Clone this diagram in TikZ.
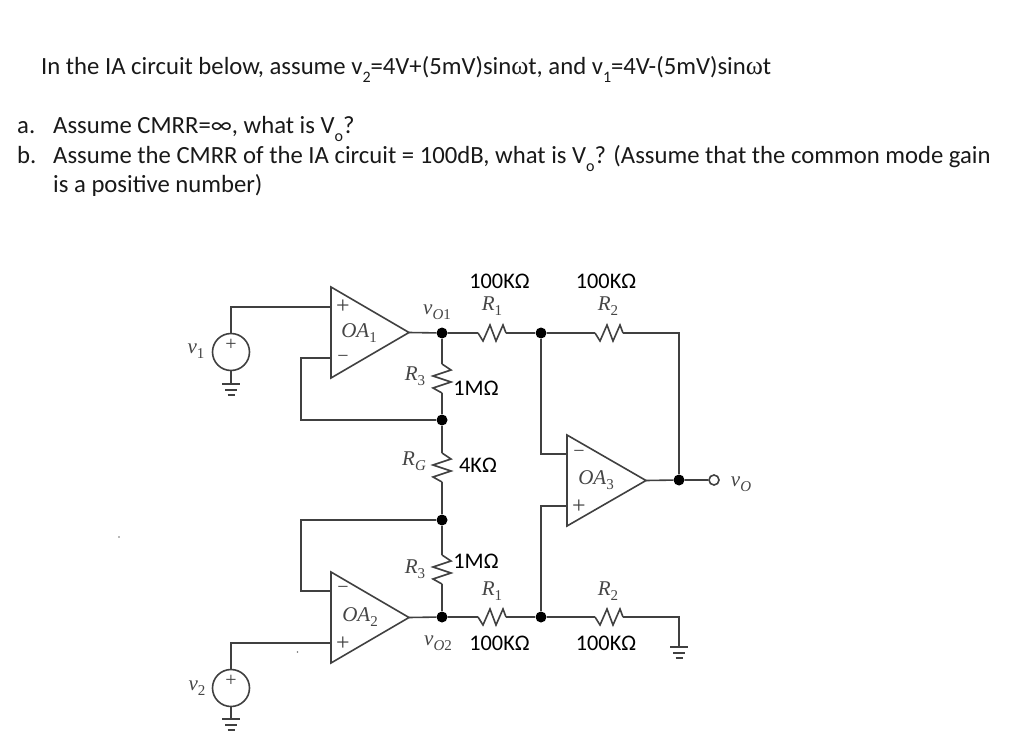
\documentclass[tikz,border=0pt]{standalone}
\usepackage{fontspec}
\setmainfont{Carlito}
\newfontfamily\serifcirc{Liberation Serif}
\newcommand{\lowsub}[1]{\raisebox{-0.3em}{\fontsize{16}{16}\selectfont #1}}
\newcommand{\omg}{{\serifcirc\fontsize{26}{26}\selectfont ω}}
\newcommand{\cv}[2]{{\serifcirc\itshape #1\raisebox{-0.25em}{\fontsize{15}{15}\selectfont\upshape #2}}}
\newcommand{\cvO}[1]{{\serifcirc\itshape v\raisebox{-0.25em}{\fontsize{15}{15}\selectfont O\upshape #1}}}
\newcommand{\cR}[2]{{\serifcirc\itshape #1\raisebox{-0.25em}{\fontsize{15}{15}\selectfont\upshape #2}}}
\newcommand{\cOA}[1]{{\serifcirc\itshape OA\raisebox{-0.25em}{\fontsize{15}{15}\selectfont\upshape #1}}}
\tikzset{
  x=1pt,y=-1pt,
  wire/.style={draw=wirec,line width=1.6pt,line join=miter},
  dotn/.style={circle,fill=black,inner sep=0pt,minimum size=11pt},
  opendot/.style={circle,draw=wirec,fill=white,line width=1.6pt,inner sep=0pt,minimum size=10pt},
  src/.style={circle,draw=wirec,line width=1.6pt,inner sep=0pt,minimum size=37pt},
  txt/.style={anchor=base west,inner sep=0pt,font=\fontsize{24.7}{24.7}\selectfont,text=black!90},
  ohm/.style={inner sep=0pt,font=\fontsize{22.3}{22.3}\selectfont,text=black},
  lab/.style={inner sep=0pt,font=\fontsize{21}{21}\selectfont,text=labc},
  sgn/.style={inner sep=0pt,font=\serifcirc\fontsize{24}{24}\selectfont,text=wirec},
}
\definecolor{wirec}{HTML}{404040}
\definecolor{labc}{HTML}{454545}
\newcommand{\opamp}[5]{% name, left x, top y, tip x, height
  \coordinate (#1top) at (#2,#3);
  \coordinate (#1bot) at (#2,#3+#5);
  \coordinate (#1out) at (#4,#3+#5/2);
  \draw[wire,line join=miter] (#1top) -- (#1out) -- (#1bot) -- cycle;
}
\newcommand{\resH}[2]{% horizontal resistor between named coordinates
  \draw[wire] (#1) -- ++(5,8) -- ++(7,-16) -- ++(6,16) -- ++(7,-16) -- ++(3,8) -- (#2);
}
\newcommand{\resV}[2]{% vertical resistor
  \draw[wire] (#1) -- ++(9,6) -- ++(-18,6) -- ++(18,6) -- ++(-18,6) -- ++(9,5) -- (#2);
}
\newcommand{\gnd}[2]{% name, top coordinate
  \coordinate (#1a) at ([yshift=0pt]#2);
  \draw[wire] (#1a) ++(-9,0) -- ++(18,0);
  \draw[wire] (#1a) ++(-6,6) -- ++(12,0);
  \draw[wire,line width=1.8pt] (#1a) ++(-3.5,11) -- ++(7,0);
}
\begin{document}
\begin{tikzpicture}
\useasboundingbox (0,0) rectangle (1024,743);
\fill[white] (0,0) rectangle (1024,743);
% --- question text
\node[txt] (q0) at (41,75) {In the IA circuit below, assume v\lowsub{2}=4V+(5mV)sin\omg t, and v\lowsub{1}=4V-(5mV)sin\omg t};
\node[txt] (qa) at (17,134) {a.};
\node[txt] (qat) at (53,134) {Assume CMRR=∞, what is V\lowsub{o}?};
\node[txt] (qb) at (17,164) {b.};
\node[txt] (qbt) at (53,164) {Assume the CMRR of the IA circuit = 100dB, what is V\lowsub{o}? (Assume that the common mode gain};
\node[txt] (qc) at (53,193) {is a positive number)};
% --- op amps
\opamp{oa1}{331}{287}{409}{91}
\opamp{oa2}{331}{572}{409}{91}
\opamp{oa3}{567}{435}{646}{91}
% --- coordinates
\coordinate (oa1p) at (331,307);
\coordinate (oa1n) at (331,358);
\coordinate (oa2n) at (331,591);
\coordinate (oa2p) at (331,643);
\coordinate (oa3n) at (567,454);
\coordinate (oa3p) at (567,506);
\coordinate (fb1) at (301,358);
\coordinate (fb1b) at (301,420);
\coordinate (fb2) at (301,591);
\coordinate (fb2b) at (301,520);
\coordinate (s1t) at (231,307);
\coordinate (s2t) at (231,643);
\coordinate (g1) at (231,384);
\coordinate (g2) at (231,719);
\coordinate (g3) at (679,647);
\coordinate (r3a) at (442,364);
\coordinate (r3b) at (442,393);
\coordinate (rga) at (442,453);
\coordinate (rgb) at (442,482);
\coordinate (r3c) at (442,555);
\coordinate (r3d) at (442,584);
\coordinate (r1a) at (478,333);
\coordinate (r1b) at (506,333);
\coordinate (r2a) at (595,333);
\coordinate (r2b) at (623,333);
\coordinate (r1c) at (478,617);
\coordinate (r1d) at (506,617);
\coordinate (r2c) at (595,617);
\coordinate (r2d) at (623,617);
\coordinate (c1) at (679,333);
\coordinate (c2) at (679,617);
\coordinate (in3n) at (541,454);
\coordinate (in3p) at (541,506);
% --- sources and nodes
\node[src] (s1) at (231,352) {};
\node[src] (s2) at (231,688) {};
\node[dotn] (n1) at (442,333) {};
\node[dotn] (n2) at (442,420) {};
\node[dotn] (n3) at (442,520) {};
\node[dotn] (n4) at (442,617) {};
\node[dotn] (n5) at (541,333) {};
\node[dotn] (n6) at (541,617) {};
\node[dotn] (n7) at (679,480) {};
\node[opendot] (vo) at (714,480) {};
% --- wires
\draw[wire] (s1.north) -- (s1t) -- (oa1p);
\draw[wire] (s2.north) -- (s2t) -- (oa2p);
\draw[wire] (s1.south) -- (g1);
\draw[wire] (s2.south) -- (g2);
\gnd{ga}{g1}
\gnd{gb}{g2}
\gnd{gc}{g3}
\draw[wire] (oa1n) -- (fb1) -- (fb1b) -- (n2);
\draw[wire] (oa2n) -- (fb2) -- (fb2b) -- (n3);
\draw[wire] (oa1out) -- (n1) -- (r1a);
\draw[wire] (oa2out) -- (n4) -- (r1c);
\draw[wire] (n1) -- (r3a);
\resV{r3a}{r3b}
\draw[wire] (r3b) -- (n2) -- (rga);
\resV{rga}{rgb}
\draw[wire] (rgb) -- (n3) -- (r3c);
\resV{r3c}{r3d}
\draw[wire] (r3d) -- (n4);
\resH{r1a}{r1b}
\resH{r2a}{r2b}
\resH{r1c}{r1d}
\resH{r2c}{r2d}
\draw[wire] (r1b) -- (n5) -- (r2a);
\draw[wire] (r1d) -- (n6) -- (r2c);
\draw[wire] (r2b) -- (c1) -- (n7);
\draw[wire] (r2d) -- (c2) -- (g3);
\draw[wire] (n5) -- (in3n) -- (oa3n);
\draw[wire] (n6) -- (in3p) -- (oa3p);
\draw[wire] (oa3out) -- (n7) -- (vo);
% --- signs
\node[sgn] (p1) at (343,307) {+};
\node[sgn] (m1) at (343,359) {\fontsize{20}{20}\selectfont −};
\node[sgn] (m2) at (343,590) {\fontsize{20}{20}\selectfont −};
\node[sgn] (p2) at (343,644) {+};
\node[sgn] (m3) at (579,454) {\fontsize{20}{20}\selectfont −};
\node[sgn] (p3) at (579,507) {+};
\node[sgn] (sp1) at (231,345) {\fontsize{20}{20}\selectfont +};
\node[sgn] (sp2) at (231,681) {\fontsize{20}{20}\selectfont +};
% --- circuit labels
\node[lab] (loa1) at (359,333) {\cOA{1}};
\node[lab] (loa2) at (360,617) {\cOA{2}};
\node[lab] (loa3) at (596,480) {\cOA{3}};
\node[lab] (lv1) at (196,351) {\cv{v}{1}};
\node[lab] (lv2) at (197,688) {\cv{v}{2}};
\node[lab] (lvo1) at (437,312) {\cvO{1}};
\node[lab] (lvo2) at (438,643) {\cvO{2}};
\node[lab] (lvo) at (741,484) {\cvO{}};
\node[lab] (lr3a) at (415,376) {\cR{R}{3}};
\node[lab] (lrg) at (414,461) {\cR{R}{\itshape G}};
\node[lab] (lr3b) at (415,569) {\cR{R}{3}};
\node[lab] (lr1a) at (492,306) {\cR{R}{1}};
\node[lab] (lr2a) at (608,306) {\cR{R}{2}};
\node[lab] (lr1b) at (492,591) {\cR{R}{1}};
\node[lab] (lr2b) at (608,591) {\cR{R}{2}};
% --- values
\node[ohm] (v1) at (499.5,281) {100KΩ};
\node[ohm] (v2) at (606,281) {100KΩ};
\node[ohm] (v3) at (476,388) {1MΩ};
\node[ohm] (v4) at (478,465) {4KΩ};
\node[ohm] (v5) at (476,561) {1MΩ};
\node[ohm] (v6) at (499.5,643) {100KΩ};
\node[ohm] (v7) at (606,643) {100KΩ};
% --- stray specks
\fill[black!55] (297.5,652) circle (0.8);
\fill[black!55] (119,537) circle (0.8);
\end{tikzpicture}
\end{document}
